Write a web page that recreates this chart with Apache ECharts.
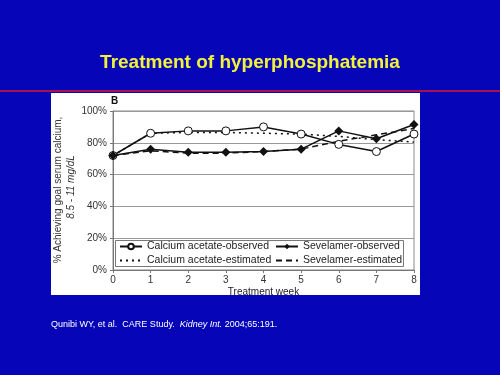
<!DOCTYPE html>
<html>
<head>
<meta charset="utf-8">
<script src="https://cdn.jsdelivr.net/npm/echarts@6/dist/echarts.min.js"></script>
<style>html,body{margin:0;padding:0;background:#0606b8}#c{width:500px;height:375px}</style>
</head>
<body>
<div id="c"></div>
<script>
var weeks = [0, 1, 2, 3, 4, 5, 6, 7, 8];
var caObserved = [72, 86, 87.5, 87.5, 90, 85.5, 79, 74.5, 85.5];
var sevObserved = [72, 76, 74, 74, 74.5, 76, 87.5, 82.5, 91.5];
var caEstimated = [72, 86, 86.5, 86.5, 86, 85.5, 84, 82, 80.5];
var sevEstimated = [72, 75, 73.5, 73.5, 74.5, 76, 81, 85, 89];
var yTicks = [0, 20, 40, 60, 80, 100];
var yLabel1 = '% Achieving goal serum calcium,';
var yLabel2 = '8.5 - 11 mg/dL';

function pairs(v){ return weeks.map(function(w,i){ return [w, v[i]]; }); }

var chart = echarts.init(document.getElementById('c'), null, {renderer:'canvas'});
var font = 'Liberation Sans, Arial, sans-serif';
var legText = {color:'#222', fontSize:10.5, fontFamily:font};
chart.setOption({
  backgroundColor: '#0606b8',
  animation: false,
  textStyle: {fontFamily: font},
  graphic: [
    {type:'line', z:-20, shape:{x1:0,y1:91,x2:500,y2:91}, style:{stroke:'#a8104e', lineWidth:2}},
    {type:'rect', z:-10, shape:{x:51,y:93,width:369,height:202}, style:{fill:'#ffffff'}},
    {type:'text', z:5, left:'center', top:53, style:{text:'Treatment of hyperphosphatemia', fill:'#f2f23a', font:'bold 19px ' + font}},
    {type:'text', z:5, left:111, top:96, style:{text:'B', fill:'#111', font:'bold 10px ' + font}},
    {type:'text', z:5, x:58, y:190, rotation:Math.PI/2, style:{text:yLabel1, fill:'#333', font:'10px ' + font, align:'center', verticalAlign:'middle'}},
    {type:'text', z:5, x:71, y:187, rotation:Math.PI/2, style:{text:yLabel2, fill:'#333', font:'italic 10px ' + font, align:'center', verticalAlign:'middle'}},
    {type:'rect', z:5, shape:{x:115.5,y:240.5,width:288,height:26}, style:{fill:'#fff', stroke:'#777', lineWidth:1}},
    {type:'text', z:5, left:51, top:320, style:{
      rich:{n:{fill:'#fff', font:'9px ' + font}, i:{fill:'#fff', font:'italic 9px ' + font}},
      text:'{n|Qunibi WY, et al.  CARE Study.  }{i|Kidney Int.}{n| 2004;65:191.}'}}
  ],
  grid: {left:113, top:111, width:301, height:159, show:true, borderColor:'#888', borderWidth:1, backgroundColor:'transparent'},
  xAxis: {
    type:'value', min:0, max:8, interval:1,
    name:'Treatment week', nameLocation:'middle', nameGap:17,
    nameTextStyle:{color:'#222', fontSize:10, fontFamily:font},
    axisLine:{lineStyle:{color:'#777'}},
    axisTick:{show:true, length:3, lineStyle:{color:'#777'}},
    axisLabel:{color:'#333', fontSize:10, margin:5},
    splitLine:{show:false}
  },
  yAxis: {
    type:'value', min:0, max:100, interval:20,
    axisLine:{show:true, lineStyle:{color:'#777'}},
    axisTick:{show:true, length:3, lineStyle:{color:'#777'}},
    axisLabel:{color:'#333', fontSize:10, margin:6, formatter:'{value}%'},
    splitLine:{show:true, lineStyle:{color:'#999', width:1}}
  },
  legend: [
    {orient:'vertical', left:119, top:241, padding:0, itemGap:3, itemWidth:22, itemHeight:7, z:6,
     data:['Calcium acetate-observed', {name:'Calcium acetate-estimated', itemStyle:{opacity:0}}],
     textStyle:legText},
    {orient:'vertical', left:275, top:241, padding:0, itemGap:3, itemWidth:22, itemHeight:7, z:6,
     data:['Sevelamer-observed', {name:'Sevelamer-estimated', itemStyle:{opacity:0}}],
     textStyle:legText}
  ],
  series: [
    {name:'Calcium acetate-estimated', type:'line', data:pairs(caEstimated), symbol:'none', z:4,
     lineStyle:{color:'#111', width:1.5, type:[2,4]}, itemStyle:{color:'#111'}},
    {name:'Sevelamer-estimated', type:'line', data:pairs(sevEstimated), symbol:'none', z:4,
     lineStyle:{color:'#111', width:1.5, type:[6,4]}, itemStyle:{color:'#111'}},
    {name:'Calcium acetate-observed', type:'line', data:pairs(caObserved), symbol:'circle', symbolSize:8, z:5,
     lineStyle:{color:'#111', width:1.5}, itemStyle:{color:'#fff', borderColor:'#111', borderWidth:1}},
    {name:'Sevelamer-observed', type:'line', data:pairs(sevObserved), symbol:'diamond', symbolSize:9, z:5,
     lineStyle:{color:'#111', width:1.5}, itemStyle:{color:'#111'}}
  ]
});
</script>
</body>
</html>
